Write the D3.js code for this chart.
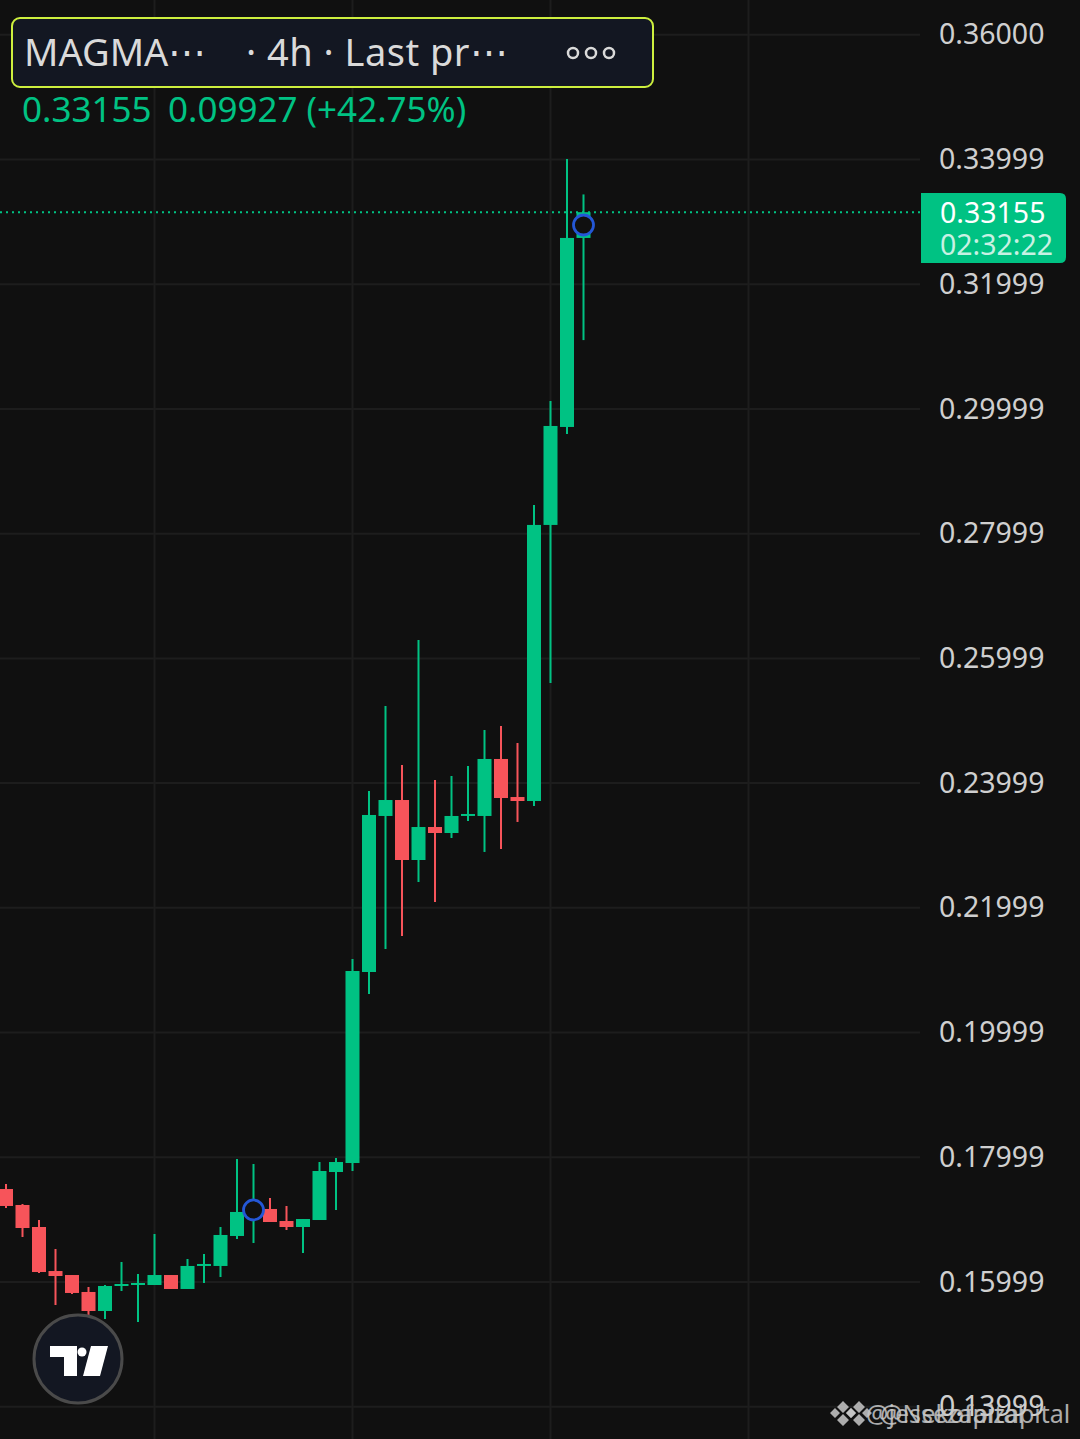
<!DOCTYPE html>
<html>
<head>
<meta charset="utf-8">
<script src="https://cdn.jsdelivr.net/npm/d3@7"></script>
<style>
  html, body { margin: 0; padding: 0; background: #101010; }
  svg { display: block; font-family: "Noto Sans", Roboto, sans-serif; }
</style>
</head>
<body>
<svg id="chart" width="1080" height="1439"></svg>
<script>
// 4h candles, oldest first
const opens = [0.17491, 0.17235, 0.16882, 0.16176, 0.16112, 0.15840, 0.15535, 0.15936, 0.15952, 0.15952,
  0.16112, 0.15888, 0.16257, 0.16257, 0.16738, 0.17123, 0.17171, 0.16978, 0.16882, 0.16994,
  0.17764, 0.17908, 0.20971, 0.23473, 0.23729, 0.22767, 0.23296, 0.23200, 0.23473, 0.23473,
  0.24387, 0.23777, 0.23713, 0.28140, 0.29711, 0.32742];
const highs = [0.17572, 0.17251, 0.16994, 0.16529, 0.16112, 0.15920, 0.15952, 0.16321, 0.16128, 0.16770,
  0.16112, 0.16369, 0.16449, 0.16882, 0.17972, 0.17892, 0.17347, 0.17219, 0.17010, 0.17924,
  0.17988, 0.21180, 0.23874, 0.25237, 0.24291, 0.26295, 0.24050, 0.24114, 0.24275, 0.24852,
  0.24916, 0.24643, 0.28460, 0.30128, 0.34009, 0.33440];
const lows = [0.17187, 0.16722, 0.16144, 0.15631, 0.15808, 0.15471, 0.15407, 0.15856, 0.15359, 0.15952,
  0.15888, 0.15888, 0.15984, 0.16080, 0.16690, 0.16625, 0.16962, 0.16834, 0.16465, 0.16994,
  0.17155, 0.17780, 0.20618, 0.21340, 0.21548, 0.22414, 0.22094, 0.23120, 0.23393, 0.22896,
  0.22944, 0.23377, 0.23633, 0.25606, 0.29599, 0.31104];
const closes = [0.17219, 0.16866, 0.16160, 0.16096, 0.15824, 0.15535, 0.15936, 0.15968, 0.15984, 0.16112,
  0.15888, 0.16257, 0.16289, 0.16754, 0.17123, 0.17171, 0.16962, 0.16882, 0.17010, 0.17780,
  0.17924, 0.20987, 0.23489, 0.23729, 0.22767, 0.23296, 0.23200, 0.23473, 0.23505, 0.24387,
  0.23761, 0.23713, 0.28140, 0.29727, 0.32742, 0.33155];

const tickValues = [0.36, 0.34, 0.32, 0.30, 0.28, 0.26, 0.24, 0.22, 0.20, 0.18, 0.16, 0.14];
const tickLabels = ['0.36000', '0.33999', '0.31999', '0.29999', '0.27999', '0.25999', '0.23999',
  '0.21999', '0.19999', '0.17999', '0.15999', '0.13999'];
const timeGridIdx = [9, 21, 33, 45];

// blue circle markers on the chart
const markerIdx = [15, 35];
const markerVal = [0.17155, 0.32950];

const lastPrice = 0.33155;
const countdown = '02:32:22';
const change = '0.09927 (+42.75%)';

const up = '#00c283';
const down = '#f7545a';
const bg = '#101010';

const svg = d3.select('#chart');
const plotRight = 920;

const x = d3.scaleLinear().domain([0, 35]).range([6, 583.5]);
const y = d3.scaleLinear().domain([0.16, 0.34]).range([1282, 159.5]);

svg.append('rect').attr('width', 1080).attr('height', 1439).attr('fill', bg);

// grid
svg.append('g')
  .selectAll('line')
  .data(tickValues)
  .enter()
  .append('line')
  .attr('x1', 0)
  .attr('x2', plotRight)
  .attr('y1', d => y(d))
  .attr('y2', d => y(d))
  .attr('stroke', '#1d1d1d')
  .attr('stroke-width', 2);

svg.append('g')
  .selectAll('line')
  .data(timeGridIdx)
  .enter()
  .append('line')
  .attr('x1', d => x(d))
  .attr('x2', d => x(d))
  .attr('y1', 0)
  .attr('y2', 1439)
  .attr('stroke', '#1d1d1d')
  .attr('stroke-width', 2);

// price axis on the right
const axis = d3.axisRight(y)
  .tickValues(tickValues)
  .tickFormat((d, i) => tickLabels[i])
  .tickSize(0)
  .tickPadding(0);

const axisG = svg.append('g')
  .attr('transform', 'translate(939,0)')
  .call(axis);
axisG.select('.domain').remove();
axisG.selectAll('text')
  .attr('fill', '#cfcfcf')
  .attr('font-size', 28.5)
  .attr('font-family', '"Noto Sans", sans-serif');

// candles
const candles = d3.range(opens.length).map(i => ({
  i, o: opens[i], h: highs[i], l: lows[i], c: closes[i],
}));
const color = d => (d.c >= d.o ? up : down);
const bodyW = 14;

const cg = svg.append('g')
  .selectAll('g')
  .data(candles)
  .enter()
  .append('g');

cg.append('line')
  .attr('x1', d => x(d.i))
  .attr('x2', d => x(d.i))
  .attr('y1', d => y(d.h))
  .attr('y2', d => y(d.l))
  .attr('stroke', color)
  .attr('stroke-width', 2);

cg.append('rect')
  .attr('x', d => x(d.i) - bodyW / 2)
  .attr('width', bodyW)
  .attr('y', d => y(Math.max(d.o, d.c)))
  .attr('height', d => Math.max(2, Math.abs(y(d.o) - y(d.c))))
  .attr('fill', color);

// markers
svg.append('g')
  .selectAll('circle')
  .data(markerIdx)
  .enter()
  .append('circle')
  .attr('cx', d => x(d))
  .attr('cy', (d, i) => y(markerVal[i]))
  .attr('r', 10)
  .attr('fill', bg)
  .attr('stroke', '#2457d6')
  .attr('stroke-width', 2.8);

// last price line + label
svg.append('line')
  .attr('x1', 0)
  .attr('x2', plotRight)
  .attr('y1', y(lastPrice))
  .attr('y2', y(lastPrice))
  .attr('stroke', up)
  .attr('stroke-width', 2)
  .attr('stroke-dasharray', '2,4');

svg.append('path')
  .attr('d', 'M921,193 H1060 Q1066,193 1066,199 V257 Q1066,263 1060,263 H921 Z')
  .attr('fill', up);
svg.append('text')
  .attr('x', 940)
  .attr('y', 223)
  .attr('font-size', 28.5)
  .attr('fill', '#ffffff')
  .text(d3.format('.5f')(lastPrice));
svg.append('text')
  .attr('x', 940)
  .attr('y', 255)
  .attr('font-size', 28.5)
  .attr('fill', 'rgba(255,255,255,0.78)')
  .text(countdown);

// header
svg.append('rect')
  .attr('x', 12)
  .attr('y', 18)
  .attr('width', 641)
  .attr('height', 69)
  .attr('rx', 8)
  .attr('fill', '#131722')
  .attr('stroke', '#cdef3e')
  .attr('stroke-width', 2);

svg.append('text')
  .attr('x', 24)
  .attr('y', 66)
  .attr('font-size', 38)
  .attr('fill', '#dadada')
  .text('MAGMA\u22ef');
svg.append('text')
  .attr('x', 246)
  .attr('y', 66)
  .attr('font-size', 38)
  .attr('fill', '#dadada')
  .attr('textLength', 262)
  .attr('lengthAdjust', 'spacing')
  .text('\u00b7 4h \u00b7 Last pr\u22ef');

svg.append('g')
  .selectAll('circle')
  .data([573, 591, 609])
  .enter()
  .append('circle')
  .attr('cx', d => d)
  .attr('cy', 53)
  .attr('r', 5)
  .attr('fill', 'none')
  .attr('stroke', '#dadada')
  .attr('stroke-width', 2.5);

svg.append('text')
  .attr('x', 22)
  .attr('y', 122)
  .attr('font-size', 35)
  .attr('fill', up)
  .text(d3.format('.5f')(lastPrice));
svg.append('text')
  .attr('x', 168)
  .attr('y', 122)
  .attr('font-size', 35)
  .attr('fill', up)
  .text(change);

// tradingview badge
const logo = svg.append('g');
logo.append('circle')
  .attr('cx', 78)
  .attr('cy', 1359)
  .attr('r', 44)
  .attr('fill', '#131722')
  .attr('stroke', '#4a4a4a')
  .attr('stroke-width', 3);
logo.append('path')
  .attr('d', 'M50,1346 H77 V1376 H64 V1357 H50 Z')
  .attr('fill', '#ffffff');
logo.append('circle')
  .attr('cx', 82)
  .attr('cy', 1352)
  .attr('r', 4.5)
  .attr('fill', '#ffffff');
logo.append('path')
  .attr('d', 'M91,1346 H108 L100,1376 H83 Z')
  .attr('fill', '#ffffff');

// watermark (two overlapping handles, as in the screenshot)
const wm = svg.append('g').attr('fill', '#c8c8c8');
[830, 846].forEach((ox) => {
  wm.append('path')
    .attr('d', `M${ox + 13},1401 l6,6 l-6,6 l-6,-6 Z M${ox + 13},1414 l6,6 l-6,6 l-6,-6 Z M${ox + 5},1408 l5,5 l-5,5 l-5,-5 Z M${ox + 21},1408 l5,5 l-5,5 l-5,-5 Z`)
    .attr('opacity', 0.85);
});
wm.append('text')
  .attr('x', 866)
  .attr('y', 1423)
  .attr('font-size', 25)
  .attr('opacity', 0.85)
  .text('@jessezapital');
wm.append('text')
  .attr('x', 880)
  .attr('y', 1423)
  .attr('font-size', 25)
  .attr('opacity', 0.85)
  .text('@Nekofaizapital');
</script>
</body>
</html>
